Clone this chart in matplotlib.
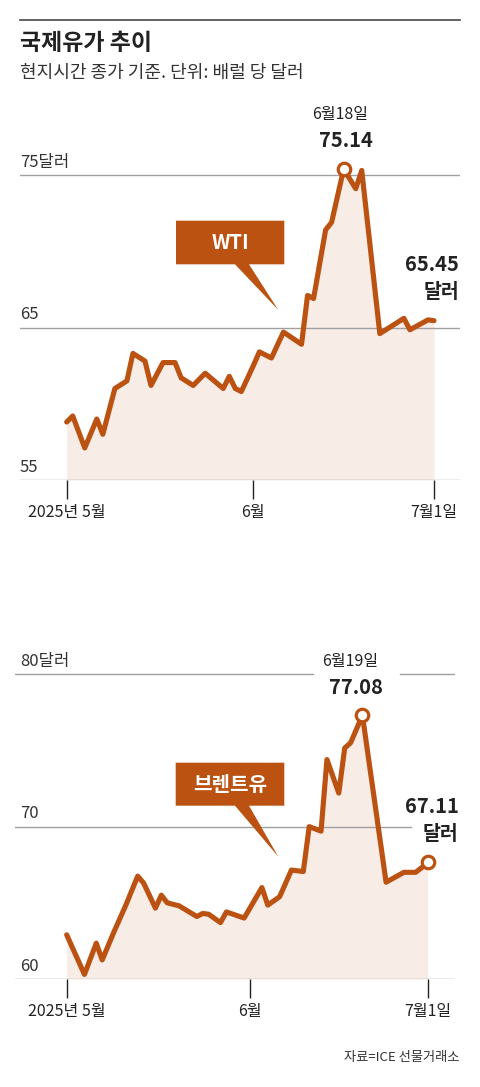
import matplotlib
matplotlib.use('Agg')
import matplotlib.pyplot as plt
import matplotlib.dates as mdates
from matplotlib.patches import Polygon
from matplotlib.lines import Line2D
import numpy as np
import datetime as dt

plt.rcParams['font.family'] = ['Noto Sans CJK KR', 'DejaVu Sans']

# ---------------- data ----------------
wti_dates = ['2025-05-01', '2025-05-02', '2025-05-04', '2025-05-06', '2025-05-07',
             '2025-05-09', '2025-05-11', '2025-05-12', '2025-05-14', '2025-05-15',
             '2025-05-17', '2025-05-19', '2025-05-20', '2025-05-22', '2025-05-24',
             '2025-05-27', '2025-05-28', '2025-05-29', '2025-05-30', '2025-06-01',
             '2025-06-02', '2025-06-04', '2025-06-06', '2025-06-09', '2025-06-10',
             '2025-06-11', '2025-06-13', '2025-06-14', '2025-06-16', '2025-06-18',
             '2025-06-19', '2025-06-22', '2025-06-26', '2025-06-27', '2025-06-30',
             '2025-07-01']
wti_values = [58.8, 59.2, 57.1, 59.0, 58.0,
              61.0, 61.5, 63.3, 62.8, 61.2,
              62.7, 62.7, 61.7, 61.2, 62.0,
              61.0, 61.8, 61.0, 60.8, 62.5,
              63.4, 63.0, 64.7, 63.9, 67.1,
              66.9, 71.4, 71.9, 75.4, 74.1,
              75.3, 64.6, 65.6, 64.85, 65.5,
              65.45]

brent_dates = ['2025-05-01', '2025-05-04', '2025-05-06', '2025-05-07', '2025-05-09',
               '2025-05-11', '2025-05-13', '2025-05-14', '2025-05-16', '2025-05-17',
               '2025-05-18', '2025-05-20', '2025-05-23', '2025-05-24', '2025-05-25',
               '2025-05-27', '2025-05-28', '2025-05-31', '2025-06-03', '2025-06-04',
               '2025-06-06', '2025-06-08', '2025-06-10', '2025-06-11', '2025-06-13',
               '2025-06-14', '2025-06-16', '2025-06-17', '2025-06-18', '2025-06-20',
               '2025-06-24', '2025-06-27', '2025-06-29', '2025-06-30', '2025-07-01']
brent_values = [62.9, 60.3, 62.35, 61.25, 63.1,
                64.85, 66.75, 66.3, 64.65, 65.5,
                65.0, 64.8, 64.1, 64.3, 64.25,
                63.7, 64.4, 64.0, 66.0, 64.85,
                65.4, 67.15, 67.05, 70.0, 69.7,
                74.4, 72.2, 75.15, 75.5, 77.3,
                66.35, 67.0, 67.0, 67.3, 67.65]

x_tick_dates = ['2025-05-01', '2025-06-01', '2025-07-01']
x_tick_labels = ['2025년 5월', '6월', '7월1일']

wti_yticks = [55, 65, 75]
wti_ytick_labels = ['55', '65', '75달러']
brent_yticks = [60, 70, 80]
brent_ytick_labels = ['60', '70', '80달러']

wti_name = 'WTI'
brent_name = '브렌트유'
wti_peak_label = ['6월18일', '75.14']
wti_end_label = ['65.45', '달러']
brent_peak_label = ['6월19일', '77.08']
brent_end_label = ['67.11', '달러']

title = '국제유가 추이'
subtitle = '현지시간 종가 기준. 단위: 배럴 당 달러'
source = '자료=ICE 선물거래소'

# ---------------- style ----------------
W, H, DPI = 480, 1087, 100
LINE_C = '#BB5212'
FILL_C = '#F8ECE6'
GRID_C = '#A0A0A0'
TEXT_C = '#222222'

fig = plt.figure(figsize=(W / DPI, H / DPI), dpi=DPI)
fig.patch.set_facecolor('white')


def fx(px):
    return px / W


def fy(px):
    return 1 - px / H


def to_num(ds):
    return mdates.date2num([dt.datetime.strptime(d, '%Y-%m-%d') for d in ds])


def make_panel(left, right, top, bottom, ymin, px_per_unit, x0px, x1px,
               dates, values, yticks, ylabels, grid_spans, name, box,
               peak_label, end_label, end_marker, peak_off, end_off):
    ax = fig.add_axes([fx(left), fy(bottom), fx(right - left), (bottom - top) / H])
    ax.set_facecolor('none')
    xs = to_num(dates)
    vals = np.array(values)
    tnum = to_num(x_tick_dates)
    d0, d1 = tnum[0], tnum[-1]
    s = (x1px - x0px) / (d1 - d0)
    ax.set_xlim(d0 - (x0px - left) / s, d1 + (right - x1px) / s)
    ax.set_ylim(ymin, ymin + (bottom - top) / px_per_unit)
    for sp in ax.spines.values():
        sp.set_visible(False)
    ax.set_yticks([])
    ax.set_xticks(tnum)
    ax.set_xticklabels(x_tick_labels)
    ax.tick_params(axis='x', length=14, width=1, color=TEXT_C, direction='out',
                   pad=3, labelsize=11.5, labelcolor=TEXT_C)

    ax.fill_between(xs, vals, ymin, color=FILL_C, lw=0, zorder=1)
    for yv, spans in zip(yticks, grid_spans):
        for (a, b) in spans:
            ax.axhline(yv, xmin=(a - left) / (right - left), xmax=(b - left) / (right - left),
                       color=GRID_C, lw=1, zorder=2)
    ax.plot(xs, vals, color=LINE_C, lw=3.7, solid_joinstyle='round',
            solid_capstyle='round', zorder=3)

    for yv, lab in zip(yticks, ylabels):
        ax.annotate(lab, xy=((20 - left) / (right - left), yv),
                    xycoords=('axes fraction', 'data'),
                    xytext=(0, 13), textcoords='offset pixels',
                    ha='left', va='center', fontsize=12, color='#333333')

    # peak
    ip = int(np.argmax(vals))
    ax.plot([xs[ip]], [vals[ip]], 'o', ms=9, mfc='white', mec=LINE_C, mew=2.3, zorder=5)
    ax.annotate(peak_label[0], xy=(xs[ip], vals[ip]), xytext=(peak_off[0], 54),
                textcoords='offset pixels', ha='center', va='center',
                fontsize=11.5, color=TEXT_C, annotation_clip=False)
    ax.annotate(peak_label[1], xy=(xs[ip], vals[ip]), xytext=(peak_off[1], 28),
                textcoords='offset pixels', ha='center', va='center',
                fontsize=14.5, fontweight='bold', color=TEXT_C, annotation_clip=False)
    # end
    if end_marker:
        ax.plot([xs[-1]], [vals[-1]], 'o', ms=9, mfc='white', mec=LINE_C, mew=2.3, zorder=5)
    ax.annotate(end_label[0], xy=(xs[-1], vals[-1]), xytext=(end_off, 56),
                textcoords='offset pixels', ha='right', va='center',
                fontsize=14.5, fontweight='bold', color=TEXT_C, annotation_clip=False)
    ax.annotate(end_label[1], xy=(xs[-1], vals[-1]), xytext=(end_off, 28),
                textcoords='offset pixels', ha='right', va='center',
                fontsize=14, fontweight='bold', color=TEXT_C, annotation_clip=False)

    # callout box
    L, R, T, B, t0, t1, tipx, tipy = box
    pts = [(L, T), (R, T), (R, B), (t1, B), (tipx, tipy), (t0, B), (L, B)]
    poly = Polygon([(fx(px), fy(py)) for px, py in pts], closed=True,
                   transform=fig.transFigure, facecolor=LINE_C, edgecolor='none', zorder=6)
    fig.add_artist(poly)
    fig.text(fx((L + R) / 2), fy((T + B) / 2), name, ha='center', va='center',
             color='white', fontsize=14.5, fontweight='bold', zorder=7)
    return ax


# top rule, title, subtitle
fig.add_artist(Line2D([fx(20), fx(460)], [fy(20), fy(20)], color='#555555', lw=1.3))
fig.text(fx(20), fy(43), title, ha='left', va='center', fontsize=16.5,
         fontweight='bold', color=TEXT_C)
fig.text(fx(20), fy(72.5), subtitle, ha='left', va='center', fontsize=13, color='#333333')

make_panel(20, 460, 100, 480, 55, 15.25, 66.7, 434,
           wti_dates, wti_values, wti_yticks, wti_ytick_labels,
           [[(20, 460)], [(20, 460)], [(20, 460)]], wti_name,
           (176, 284.3, 220.7, 264.3, 235, 249, 278.3, 310),
           wti_peak_label, wti_end_label, False, (-4, 2), 25)

make_panel(15, 455, 600, 979, 60, 15.24, 66.7, 427.5,
           brent_dates, brent_values, brent_yticks, brent_ytick_labels,
           [[(15, 455)], [(15, 410.7)], [(15, 312.7), (400, 455)]], brent_name,
           (175.7, 284.3, 762.7, 805.7, 235, 249, 278.3, 856.7),
           brent_peak_label, brent_end_label, True, (-12, -7), 31)

fig.text(fx(459), fy(1057), source, ha='right', va='center', fontsize=9.5, color='#333333')

fig.savefig('out.png', dpi=DPI, facecolor='white')
